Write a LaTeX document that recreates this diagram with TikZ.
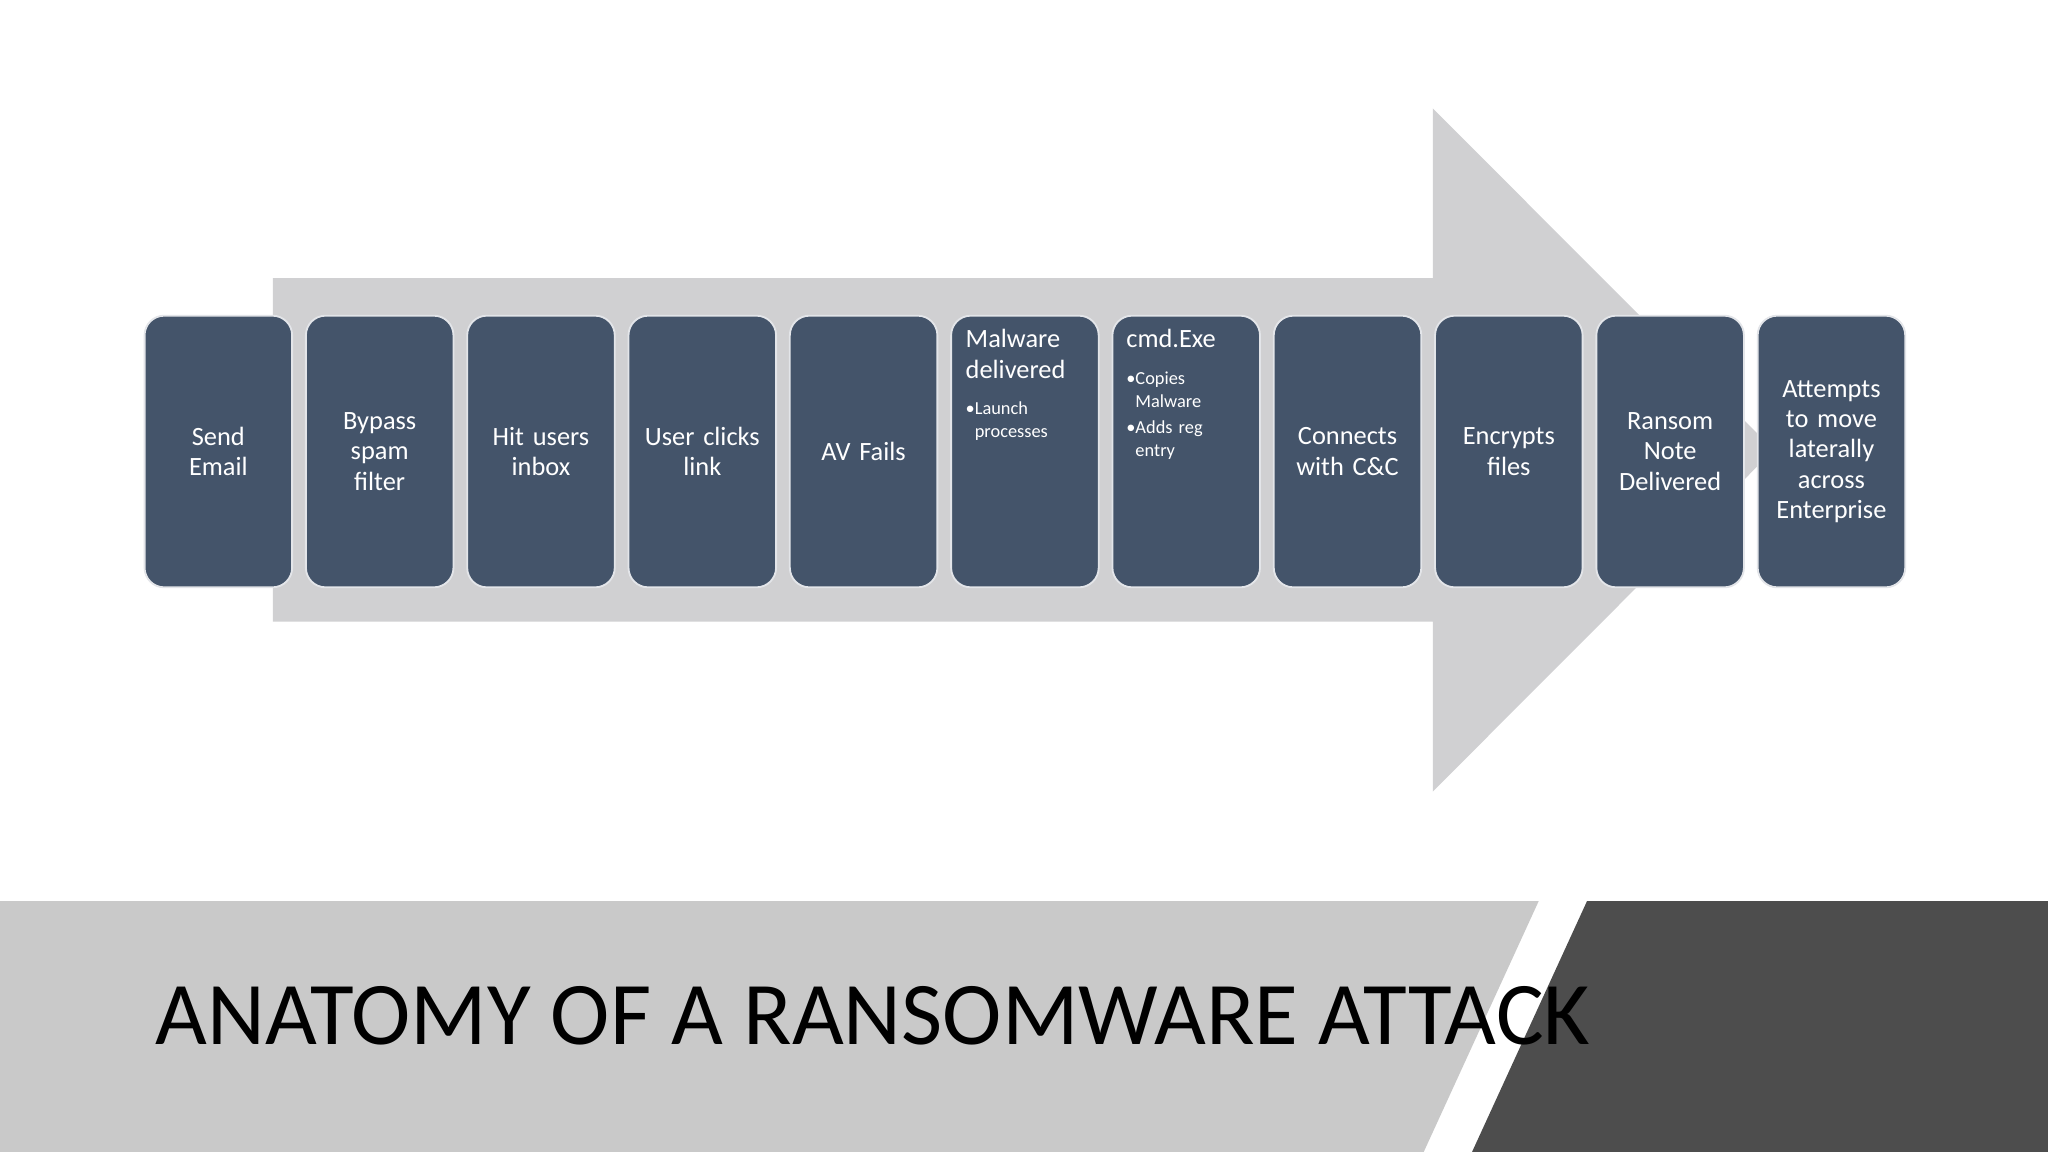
\documentclass[tikz,border=0pt]{standalone}
\usepackage{fontspec}
\setmainfont{Carlito}
\definecolor{arrowgray}{HTML}{D0D0D2}
\definecolor{boxblue}{HTML}{44546A}
\definecolor{bandgray}{HTML}{C9C9C9}
\definecolor{darkband}{HTML}{4D4D4D}
\begin{document}
\begin{tikzpicture}[x=0.02cm,y=-0.02cm,
  stepbox/.style={draw=white!85!boxblue,line width=0.8pt,fill=boxblue,rounded corners=0.3cm,minimum width=2.26cm,minimum height=4.16cm,anchor=north west,inner sep=0pt},
  boxtext/.style={text=white,font=\fontsize{11.5}{13.2}\selectfont,align=center,text width=2.1cm},
  toptext/.style={text=white,font=\fontsize{11.5}{13.2}\selectfont,align=left,text width=2.05cm,anchor=north west,inner sep=0pt},
  bullettext/.style={text=white,font=\fontsize{8}{10.2}\selectfont,align=left,text width=1.95cm,anchor=north west,inner sep=0pt}]
\useasboundingbox (0,0) rectangle (1568,882);
\fill[white] (0,0) rectangle (1568,882);
% big arrow
\fill[arrowgray] (209,213) -- (1097,213) -- (1097,83) -- (1358,344.5) -- (1097,606) -- (1097,476) -- (209,476) -- cycle;
% boxes
\foreach \i/\t in {0/{Send\\Email},1/{Bypass\\spam\\filter},2/{Hit users\\inbox},3/{User clicks\\link},4/{AV Fails},5/{},6/{},7/{Connects\\with C\&C},8/{Encrypts\\files},9/{Ransom\\Note\\Delivered},10/{Attempts\\to move\\laterally\\across\\Enterprise}}{
  \node[stepbox] (b\i) at ({110+123.5*\i},241) {};
  \node[boxtext] (t\i) at (b\i.center) {\t};
}
\node[toptext] (m1) at (739,252) {Malware\\delivered};
\node[bullettext] (m2) at (739,307) {•Launch\\\hspace*{0.14cm}processes};
\node[toptext] (c1) at (862,252) {cmd.Exe};
\node[bullettext] (c2) at (862,284) {•Copies\\\hspace*{0.14cm}Malware\\[1pt]•Adds reg\\\hspace*{0.14cm}entry};
% bottom band
\fill[bandgray] (0,690) -- (1178,690) -- (1090,882) -- (0,882) -- cycle;
\fill[darkband] (1215,690) -- (1568,690) -- (1568,882) -- (1127,882) -- cycle;
\node[anchor=base west,inner sep=0pt,font=\fontsize{39}{44}\selectfont,text=black] (title) at (119,800) {ANATOMY OF A RANSOMWARE ATTACK};
\end{tikzpicture}
\end{document}
